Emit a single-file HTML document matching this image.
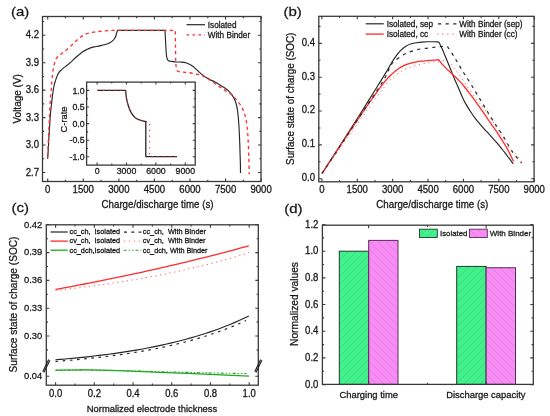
<!DOCTYPE html>
<html><head><meta charset="utf-8"><title>Figure</title>
<style>
html,body{margin:0;padding:0;background:#fff;}
body{width:550px;height:416px;overflow:hidden;}
svg{display:block;}
svg text{font-family:"Liberation Sans", Arial, sans-serif;fill:#161616;stroke:#1c1c1c;stroke-width:0.28px;}
</style></head><body>
<svg width="550" height="416" viewBox="0 0 550 416">
<rect width="550" height="416" fill="#fff"/>
<text font-size="14" text-anchor="start" transform="translate(10.9 15.9) scale(1.07 0.97)">(a)</text>
<rect x="42.5" y="16.5" width="218.5" height="165" fill="none" stroke="#3a3a3a" stroke-width="1.3"/>
<path d="M47.7,181.5v-3 M47.7,16.5v3 M83.27,181.5v-3 M83.27,16.5v3 M118.84,181.5v-3 M118.84,16.5v3 M154.41,181.5v-3 M154.41,16.5v3 M189.98,181.5v-3 M189.98,16.5v3 M225.55,181.5v-3 M225.55,16.5v3 M261.12,181.5v-3 M261.12,16.5v3 M65.48,181.5v-1.7 M65.48,16.5v1.7 M101.05,181.5v-1.7 M101.05,16.5v1.7 M136.62,181.5v-1.7 M136.62,16.5v1.7 M172.19,181.5v-1.7 M172.19,16.5v1.7 M207.76,181.5v-1.7 M207.76,16.5v1.7 M243.33,181.5v-1.7 M243.33,16.5v1.7 " stroke="#3a3a3a" stroke-width="1.1" fill="none"/>
<path d="M42.5,172.5h3 M261,172.5h-3 M42.5,145.05h3 M261,145.05h-3 M42.5,117.6h3 M261,117.6h-3 M42.5,90.15h3 M261,90.15h-3 M42.5,62.7h3 M261,62.7h-3 M42.5,35.25h3 M261,35.25h-3 M42.5,158.78h1.7 M261,158.78h-1.7 M42.5,131.33h1.7 M261,131.33h-1.7 M42.5,103.88h1.7 M261,103.88h-1.7 M42.5,76.43h1.7 M261,76.43h-1.7 M42.5,48.98h1.7 M261,48.98h-1.7 M42.5,21.53h1.7 M261,21.53h-1.7 " stroke="#3a3a3a" stroke-width="1.1" fill="none"/>
<text font-size="9.6" text-anchor="middle" transform="translate(47.7 192.6) scale(1 1.06)">0</text>
<text font-size="9.6" text-anchor="middle" transform="translate(83.27 192.6) scale(1 1.06)">1500</text>
<text font-size="9.6" text-anchor="middle" transform="translate(118.84 192.6) scale(1 1.06)">3000</text>
<text font-size="9.6" text-anchor="middle" transform="translate(154.41 192.6) scale(1 1.06)">4500</text>
<text font-size="9.6" text-anchor="middle" transform="translate(189.98 192.6) scale(1 1.06)">6000</text>
<text font-size="9.6" text-anchor="middle" transform="translate(225.55 192.6) scale(1 1.06)">7500</text>
<text font-size="9.6" text-anchor="middle" transform="translate(261.12 192.6) scale(1 1.06)">9000</text>
<text font-size="9.6" text-anchor="end" transform="translate(39.1 175.5) scale(1 1.06)">2.7</text>
<text font-size="9.6" text-anchor="end" transform="translate(39.1 148.05) scale(1 1.06)">3.0</text>
<text font-size="9.6" text-anchor="end" transform="translate(39.1 120.6) scale(1 1.06)">3.3</text>
<text font-size="9.6" text-anchor="end" transform="translate(39.1 93.15) scale(1 1.06)">3.6</text>
<text font-size="9.6" text-anchor="end" transform="translate(39.1 65.7) scale(1 1.06)">3.9</text>
<text font-size="9.6" text-anchor="end" transform="translate(39.1 38.25) scale(1 1.06)">4.2</text>
<text font-size="10" text-anchor="middle" transform="translate(20.8 98.8) rotate(-90)">Voltage (V)</text>
<text font-size="9.75" text-anchor="middle" transform="translate(157.5 208.4) scale(1 1.07)">Charge/discharge time (s)</text>
<path d="M47.7,158.8 C47.83,156.5 48.23,149.63 48.5,145 C48.77,140.37 49.03,135.43 49.3,131 C49.57,126.57 49.85,121.9 50.1,118.4 C50.35,114.9 50.55,112.52 50.8,110 C51.05,107.48 51.35,105.47 51.6,103.3 C51.85,101.13 52.05,99.03 52.3,97 C52.55,94.97 52.82,92.93 53.1,91.1 C53.38,89.27 53.68,87.52 54,86 C54.32,84.48 54.62,83.28 55,82 C55.38,80.72 55.88,79.48 56.3,78.3 C56.72,77.12 57.05,75.9 57.5,74.9 C57.95,73.9 58.43,73.07 59,72.3 C59.57,71.53 60.07,71.08 60.9,70.3 C61.73,69.52 62.97,68.43 64,67.6 C65.03,66.77 66.13,66.07 67.1,65.3 C68.07,64.53 68.93,63.75 69.8,63 C70.67,62.25 71.27,61.75 72.3,60.8 C73.33,59.85 74.8,58.37 76,57.3 C77.2,56.23 78.33,55.35 79.5,54.4 C80.67,53.45 81.8,52.4 83,51.6 C84.2,50.8 85.45,50.22 86.7,49.6 C87.95,48.98 89.28,48.35 90.5,47.9 C91.72,47.45 92.75,47.2 94,46.9 C95.25,46.6 96.83,46.32 98,46.1 C99.17,45.88 99.92,45.82 101,45.6 C102.08,45.38 103.42,45.1 104.5,44.8 C105.58,44.5 106.5,44.23 107.5,43.8 C108.5,43.37 109.57,42.78 110.5,42.2 C111.43,41.62 112.42,40.92 113.1,40.3 C113.78,39.68 114.18,39.13 114.6,38.5 C115.02,37.87 115.3,37.25 115.6,36.5 C115.9,35.75 116.18,34.73 116.4,34 C116.62,33.27 116.72,32.7 116.9,32.1 C117.08,31.5 117.4,30.68 117.5,30.4 L165,30.4 L165,30.4 C165.1,32.33 165.4,38.27 165.6,42 C165.8,45.73 165.97,50.1 166.2,52.8 C166.43,55.5 166.7,56.95 167,58.2 C167.3,59.45 167.58,59.82 168,60.3 C168.42,60.78 168.83,60.92 169.5,61.1 C170.17,61.28 170.92,61.25 172,61.4 C173.08,61.55 174.37,61.88 176,62 C177.63,62.12 180.05,61.93 181.8,62.1 C183.55,62.27 185.05,62.55 186.5,63 C187.95,63.45 189.33,64.17 190.5,64.8 C191.67,65.43 192.58,66.07 193.5,66.8 C194.42,67.53 195.12,68.37 196,69.2 C196.88,70.03 197.9,70.98 198.8,71.8 C199.7,72.62 200.53,73.38 201.4,74.1 C202.27,74.82 203.08,75.47 204,76.1 C204.92,76.73 205.82,77.27 206.9,77.9 C207.98,78.53 209.23,79.27 210.5,79.9 C211.77,80.53 212.92,80.85 214.5,81.7 C216.08,82.55 218.37,84.02 220,85 C221.63,85.98 222.97,86.7 224.3,87.6 C225.63,88.5 226.83,89.3 228,90.4 C229.17,91.5 230.38,93.02 231.3,94.2 C232.22,95.38 232.85,96.37 233.5,97.5 C234.15,98.63 234.68,99.67 235.2,101 C235.72,102.33 236.2,103.83 236.6,105.5 C237,107.17 237.3,108.83 237.6,111 C237.9,113.17 238.17,115.83 238.4,118.5 C238.63,121.17 238.83,124.25 239,127 C239.17,129.75 239.27,132 239.4,135 C239.53,138 239.68,141.67 239.8,145 C239.92,148.33 240,151.83 240.1,155 C240.2,158.17 240.33,161 240.4,164 C240.47,167 240.48,171.5 240.5,173" fill="none" stroke="#262626" stroke-width="1.15" stroke-linejoin="round"/>
<path d="M47.7,156 C47.82,153.33 48.18,144.83 48.4,140 C48.62,135.17 48.8,131.1 49,127 C49.2,122.9 49.38,119.87 49.6,115.4 C49.82,110.93 50.05,104.08 50.3,100.2 C50.55,96.32 50.88,94.63 51.1,92.1 C51.32,89.57 51.43,87.35 51.6,85 C51.77,82.65 51.83,80.58 52.1,78 C52.37,75.42 52.75,72.13 53.2,69.5 C53.65,66.87 54.28,64.03 54.8,62.2 C55.32,60.37 55.73,59.52 56.3,58.5 C56.87,57.48 57.42,56.85 58.2,56.1 C58.98,55.35 59.97,54.77 61,54 C62.03,53.23 62.93,52.65 64.4,51.5 C65.87,50.35 68.05,48.68 69.8,47.1 C71.55,45.52 73.13,43.63 74.9,42 C76.67,40.37 78.52,38.65 80.4,37.3 C82.28,35.95 84.2,34.72 86.2,33.9 C88.2,33.08 90.35,32.8 92.4,32.4 C94.45,32 96.57,31.75 98.5,31.5 C100.43,31.25 102.08,31.07 104,30.9 C105.92,30.73 108.33,30.58 110,30.5 C111.67,30.42 113.33,30.42 114,30.4 L175.3,30.4 L175.3,30.4 C175.33,32.83 175.43,40.07 175.5,45 C175.57,49.93 175.58,56.25 175.7,60 C175.82,63.75 175.92,65.7 176.2,67.5 C176.48,69.3 176.83,70.08 177.4,70.8 C177.97,71.52 178.58,71.57 179.6,71.8 C180.62,72.03 182.22,72.08 183.5,72.2 C184.78,72.32 186.05,72.37 187.3,72.5 C188.55,72.63 189.73,72.78 191,73 C192.27,73.22 193.7,73.55 194.9,73.8 C196.1,74.05 197.12,74.23 198.2,74.5 C199.28,74.77 200.4,75.05 201.4,75.4 C202.4,75.75 203.28,76.15 204.2,76.6 C205.12,77.05 205.82,77.43 206.9,78.1 C207.98,78.77 209.43,79.75 210.7,80.6 C211.97,81.45 213.12,82.23 214.5,83.2 C215.88,84.17 217.75,85.53 219,86.4 C220.25,87.27 220.83,87.63 222,88.4 C223.17,89.17 224.45,90 226,91 C227.55,92 229.72,93.13 231.3,94.4 C232.88,95.67 234.1,97 235.5,98.6 C236.9,100.2 238.53,102.33 239.7,104 C240.87,105.67 241.7,106.98 242.5,108.6 C243.3,110.22 243.92,111.97 244.5,113.7 C245.08,115.43 245.6,117 246,119 C246.4,121 246.63,123.53 246.9,125.7 C247.17,127.87 247.4,129.6 247.6,132 C247.8,134.4 247.9,135.95 248.1,140.1 C248.3,144.25 248.62,151.22 248.8,156.9 C248.98,162.58 249.13,171.32 249.2,174.2" fill="none" stroke="#ff2a2a" stroke-width="1.3" stroke-dasharray="3.3 3.2" stroke-linejoin="round"/>
<path d="M186.5,24.7H205" fill="none" stroke="#262626" stroke-width="1.2" stroke-linejoin="round"/>
<path d="M186.5,34.9H205" fill="none" stroke="#ff2a2a" stroke-width="1.3" stroke-dasharray="2.6 3.4" stroke-linejoin="round"/>
<text font-size="8.2" text-anchor="start" transform="translate(207.8 27.6)">Isolated</text>
<text font-size="8.2" text-anchor="start" transform="translate(207.8 37.8)">With Binder</text>
<rect x="86.6" y="82.1" width="108.6" height="83.0" fill="#fff" stroke="none"/>
<rect x="86.6" y="82.1" width="108.6" height="83" fill="none" stroke="#3a3a3a" stroke-width="1.3"/>
<path d="M97.1,165.1v-2.5 M97.1,82.1v2.5 M126.5,165.1v-2.5 M126.5,82.1v2.5 M155.9,165.1v-2.5 M155.9,82.1v2.5 M185.3,165.1v-2.5 M185.3,82.1v2.5 M111.8,165.1v-1.5 M111.8,82.1v1.5 M141.2,165.1v-1.5 M141.2,82.1v1.5 M170.6,165.1v-1.5 M170.6,82.1v1.5 " stroke="#3a3a3a" stroke-width="1.1" fill="none"/>
<path d="M86.6,156.8h2.5 M195.2,156.8h-2.5 M86.6,140.2h2.5 M195.2,140.2h-2.5 M86.6,123.6h2.5 M195.2,123.6h-2.5 M86.6,107h2.5 M195.2,107h-2.5 M86.6,90.4h2.5 M195.2,90.4h-2.5 M86.6,148.5h1.5 M195.2,148.5h-1.5 M86.6,131.9h1.5 M195.2,131.9h-1.5 M86.6,115.3h1.5 M195.2,115.3h-1.5 M86.6,98.7h1.5 M195.2,98.7h-1.5 " stroke="#3a3a3a" stroke-width="1.1" fill="none"/>
<text font-size="8.8" text-anchor="middle" transform="translate(97.1 174) scale(1 1.08)">0</text>
<text font-size="8.8" text-anchor="middle" transform="translate(126.5 174) scale(1 1.08)">3000</text>
<text font-size="8.8" text-anchor="middle" transform="translate(155.9 174) scale(1 1.08)">6000</text>
<text font-size="8.8" text-anchor="middle" transform="translate(185.3 174) scale(1 1.08)">9000</text>
<text font-size="8.8" text-anchor="end" transform="translate(84.6 159.9) scale(1 1.08)">-1.0</text>
<text font-size="8.8" text-anchor="end" transform="translate(84.6 143.3) scale(1 1.08)">-0.5</text>
<text font-size="8.8" text-anchor="end" transform="translate(84.6 126.7) scale(1 1.08)">0.0</text>
<text font-size="8.8" text-anchor="end" transform="translate(84.6 110.1) scale(1 1.08)">0.5</text>
<text font-size="8.8" text-anchor="end" transform="translate(84.6 93.5) scale(1 1.08)">1.0</text>
<text font-size="9.4" text-anchor="middle" transform="translate(66.5 119.5) rotate(-90)">C-rate</text>
<path d="M97.1,90.4 L125.6,90.4 L125.6,90.4 C125.67,91.1 125.78,92.93 126,94.6 C126.22,96.27 126.48,98.47 126.9,100.4 C127.32,102.33 127.77,104.12 128.5,106.2 C129.23,108.28 130.18,110.98 131.3,112.9 C132.42,114.82 133.75,116.48 135.2,117.7 C136.65,118.92 138.27,119.57 140,120.2 C141.73,120.83 144.67,121.28 145.6,121.5 L145.8,121.6 L145.8,156.6 L177,156.6" fill="none" stroke="#262626" stroke-width="1.3" stroke-linejoin="round"/>
<path d="M97.1,90.4 L125.6,90.4 L125.6,90.4 C125.67,91.1 125.78,92.93 126,94.6 C126.22,96.27 126.48,98.47 126.9,100.4 C127.32,102.33 127.77,104.12 128.5,106.2 C129.23,108.28 130.18,110.98 131.3,112.9 C132.42,114.82 133.75,116.48 135.2,117.7 C136.65,118.92 138.27,119.57 140,120.2 C141.73,120.83 144,121.23 145.6,121.5 C147.2,121.77 148.93,121.75 149.6,121.8 L149.6,121.8 L149.6,156.6 L177,156.6" fill="none" stroke="#ff2a2a" stroke-width="1.1" stroke-dasharray="1.2 4.6" stroke-linejoin="round"/>
<text font-size="14" text-anchor="start" transform="translate(283.5 16.3) scale(1.07 0.97)">(b)</text>
<rect x="318.8" y="16.3" width="215.3" height="165.5" fill="none" stroke="#3a3a3a" stroke-width="1.3"/>
<path d="M321.9,181.8v-3 M321.9,16.3v3 M357.28,181.8v-3 M357.28,16.3v3 M392.67,181.8v-3 M392.67,16.3v3 M428.05,181.8v-3 M428.05,16.3v3 M463.44,181.8v-3 M463.44,16.3v3 M498.82,181.8v-3 M498.82,16.3v3 M534.21,181.8v-3 M534.21,16.3v3 M339.59,181.8v-1.7 M339.59,16.3v1.7 M374.98,181.8v-1.7 M374.98,16.3v1.7 M410.36,181.8v-1.7 M410.36,16.3v1.7 M445.75,181.8v-1.7 M445.75,16.3v1.7 M481.13,181.8v-1.7 M481.13,16.3v1.7 M516.52,181.8v-1.7 M516.52,16.3v1.7 " stroke="#3a3a3a" stroke-width="1.1" fill="none"/>
<path d="M318.8,178.7h3 M534.1,178.7h-3 M318.8,144.86h3 M534.1,144.86h-3 M318.8,111.02h3 M534.1,111.02h-3 M318.8,77.18h3 M534.1,77.18h-3 M318.8,43.34h3 M534.1,43.34h-3 M318.8,161.78h1.7 M534.1,161.78h-1.7 M318.8,127.94h1.7 M534.1,127.94h-1.7 M318.8,94.1h1.7 M534.1,94.1h-1.7 M318.8,60.26h1.7 M534.1,60.26h-1.7 M318.8,26.42h1.7 M534.1,26.42h-1.7 " stroke="#3a3a3a" stroke-width="1.1" fill="none"/>
<text font-size="9.6" text-anchor="middle" transform="translate(321.9 192.6) scale(1 1.06)">0</text>
<text font-size="9.6" text-anchor="middle" transform="translate(357.28 192.6) scale(1 1.06)">1500</text>
<text font-size="9.6" text-anchor="middle" transform="translate(392.67 192.6) scale(1 1.06)">3000</text>
<text font-size="9.6" text-anchor="middle" transform="translate(428.05 192.6) scale(1 1.06)">4500</text>
<text font-size="9.6" text-anchor="middle" transform="translate(463.44 192.6) scale(1 1.06)">6000</text>
<text font-size="9.6" text-anchor="middle" transform="translate(498.82 192.6) scale(1 1.06)">7500</text>
<text font-size="9.6" text-anchor="middle" transform="translate(534.21 192.6) scale(1 1.06)">9000</text>
<text font-size="9.6" text-anchor="end" transform="translate(315 181.1) scale(1 1.06)">0.0</text>
<text font-size="9.6" text-anchor="end" transform="translate(315 147.26) scale(1 1.06)">0.1</text>
<text font-size="9.6" text-anchor="end" transform="translate(315 113.42) scale(1 1.06)">0.2</text>
<text font-size="9.6" text-anchor="end" transform="translate(315 79.58) scale(1 1.06)">0.3</text>
<text font-size="9.6" text-anchor="end" transform="translate(315 45.74) scale(1 1.06)">0.4</text>
<text font-size="9.85" text-anchor="middle" transform="translate(294.2 98.8) rotate(-90) scale(1 1.04)">Surface state of charge (SOC)</text>
<text font-size="9.75" text-anchor="middle" transform="translate(432.3 208.2) scale(1 1.07)">Charge/discharge time (s)</text>
<path d="M322,173.5 L341,144 L360,114.2 L360,114.2 C362.4,110.37 370.08,98.13 374.4,91.2 C378.72,84.27 383.13,77.17 385.9,72.6 C388.67,68.03 389.32,66.53 391,63.8 C392.68,61.07 394.42,58.4 396,56.2 C397.58,54 398.85,52.27 400.5,50.6 C402.15,48.93 404.08,47.33 405.9,46.2 C407.72,45.07 409.58,44.38 411.4,43.8 C413.22,43.22 414.98,42.98 416.8,42.7 C418.62,42.42 420.48,42.25 422.3,42.1 C424.12,41.95 425.88,41.85 427.7,41.8 C429.52,41.75 431.35,41.77 433.2,41.8 C435.05,41.83 437.87,41.97 438.8,42 L438.8,42 C439.28,42.95 440.42,44.83 441.7,47.7 C442.98,50.57 445.05,55.68 446.5,59.2 C447.95,62.72 449.12,65.63 450.4,68.8 C451.68,71.97 452.9,75.12 454.2,78.2 C455.5,81.28 456.82,84.1 458.2,87.3 C459.58,90.5 461.17,94.52 462.5,97.4 C463.83,100.28 464.68,101.97 466.2,104.6 C467.72,107.23 469.97,110.73 471.6,113.2 C473.23,115.67 474.53,117.5 476,119.4 C477.47,121.3 478.9,122.87 480.4,124.6 C481.9,126.33 483.45,128.1 485,129.8 C486.55,131.5 487.63,132.53 489.7,134.8 C491.77,137.07 495.48,141.17 497.4,143.4 C499.32,145.63 499.9,146.57 501.2,148.2 C502.5,149.83 503.9,151.53 505.2,153.2 C506.5,154.87 507.65,156.43 509,158.2 C510.35,159.97 512.58,162.87 513.3,163.8" fill="none" stroke="#262626" stroke-width="1.15" stroke-linejoin="round"/>
<path d="M322,173.5 L342,143 L358,119.2 L358,119.2 C359.17,117.48 362.83,112.03 365,108.9 C367.17,105.77 369.17,102.98 371,100.4 C372.83,97.82 374.23,95.87 376,93.4 C377.77,90.93 379.47,88.33 381.6,85.6 C383.73,82.87 386.4,79.53 388.8,77 C391.2,74.47 393.6,72.27 396,70.4 C398.4,68.53 400.87,66.98 403.2,65.8 C405.53,64.62 407.73,63.97 410,63.3 C412.27,62.63 414.75,62.17 416.8,61.8 C418.85,61.43 420.48,61.3 422.3,61.1 C424.12,60.9 425.92,60.77 427.7,60.6 C429.48,60.43 431.18,60.25 433,60.1 C434.82,59.95 437.67,59.77 438.6,59.7 L438.6,59.7 C438.97,60.17 439.63,61.13 440.8,62.5 C441.97,63.87 444,66.25 445.6,67.9 C447.2,69.55 448.32,70.45 450.4,72.4 C452.48,74.35 455.72,77.17 458.1,79.6 C460.48,82.03 462.52,84.33 464.7,87 C466.88,89.67 469.05,92.72 471.2,95.6 C473.35,98.48 475.27,101.05 477.6,104.3 C479.93,107.55 483.4,112.48 485.2,115.1 C487,117.72 486.37,117.05 488.4,120 C490.43,122.95 494.4,128.25 497.4,132.8 C500.4,137.35 503.7,142.53 506.4,147.3 C509.1,152.07 512.4,159.05 513.6,161.4" fill="none" stroke="#ff2a2a" stroke-width="1.3" stroke-linejoin="round"/>
<path d="M322,173.5 L345,138.8 L360,116.2 L360,116.2 C361.43,114.03 366.1,106.98 368.6,103.2 C371.1,99.42 372.82,96.83 375,93.5 C377.18,90.17 379.9,86.08 381.7,83.2 C383.5,80.32 384.67,78.37 385.8,76.2 C386.93,74.03 387.6,72.1 388.5,70.2 C389.4,68.3 390.28,66.27 391.2,64.8 C392.12,63.33 392.72,62.57 394,61.4 C395.28,60.23 396.92,59.12 398.9,57.8 C400.88,56.48 402.92,54.85 405.9,53.5 C408.88,52.15 413.17,50.6 416.8,49.7 C420.43,48.8 424.43,48.55 427.7,48.1 C430.97,47.65 434.07,47.27 436.4,47 C438.73,46.73 439.85,46.57 441.7,46.5 C443.55,46.43 446.53,46.58 447.5,46.6 L447.5,46.6 C448.3,47.82 450.85,51.63 452.3,53.9 C453.75,56.17 454.92,58.08 456.2,60.2 C457.48,62.32 458.73,64.47 460,66.6 C461.27,68.73 462.67,71.17 463.8,73 C464.93,74.83 465.22,75.08 466.8,77.6 C468.38,80.12 471.13,84.55 473.3,88.1 C475.47,91.65 477.63,95.3 479.8,98.9 C481.97,102.5 483.97,105.85 486.3,109.7 C488.63,113.55 491.05,117.7 493.8,122 C496.55,126.3 499.8,130.68 502.8,135.5 C505.8,140.32 508.67,146.3 511.8,150.9 C514.93,155.5 519.97,161.07 521.6,163.1" fill="none" stroke="#262626" stroke-width="1.2" stroke-dasharray="3.2 4.4" stroke-linejoin="round"/>
<path d="M322,173.5 L336,154 L345,141.2 L345,141.2 C345.92,139.88 348.58,135.97 350.5,133.3 C352.42,130.63 354.55,127.92 356.5,125.2 C358.45,122.48 360.25,119.73 362.2,117 C364.15,114.27 365.82,112.07 368.2,108.8 C370.58,105.53 374.1,100.65 376.5,97.4 C378.9,94.15 381.05,91.37 382.6,89.3 C384.15,87.23 384.78,86.28 385.8,85 C386.82,83.72 387.55,82.8 388.7,81.6 C389.85,80.4 391.4,78.97 392.7,77.8 C394,76.63 395.28,75.53 396.5,74.6 C397.72,73.67 398.88,72.92 400,72.2 C401.12,71.48 401.7,71.05 403.2,70.3 C404.7,69.55 406.73,68.57 409,67.7 C411.27,66.83 413.68,65.92 416.8,65.1 C419.92,64.28 424.07,63.47 427.7,62.8 C431.33,62.13 435.38,61.52 438.6,61.1 C441.82,60.68 445.6,60.43 447,60.3 L447,60.3 C447.72,61 450.1,63.12 451.3,64.5 C452.5,65.88 453.15,67.23 454.2,68.6 C455.25,69.97 456.55,71.38 457.6,72.7 C458.65,74.02 458.6,73.78 460.5,76.5 C462.4,79.22 466.15,85 469,89 C471.85,93 475.27,97.42 477.6,100.5 C479.93,103.58 480.6,104.22 483,107.5 C485.4,110.78 489,115.72 492,120.2 C495,124.68 498,129.58 501,134.4 C504,139.22 507.58,145.95 510,149.1 C512.42,152.25 513.57,151.07 515.5,153.3 C517.43,155.53 520.58,160.97 521.6,162.5" fill="none" stroke="#ff2a2a" stroke-width="1.0" stroke-dasharray="1.2 3.6" stroke-linejoin="round" opacity="0.75"/>
<path d="M365.7,23.8H383.7" fill="none" stroke="#262626" stroke-width="1.2" stroke-linejoin="round"/>
<path d="M365.7,34.1H383.7" fill="none" stroke="#ff2a2a" stroke-width="1.3" stroke-linejoin="round"/>
<path d="M438,23.8H456.4" fill="none" stroke="#262626" stroke-width="1.2" stroke-dasharray="3.2 4.4" stroke-linejoin="round"/>
<path d="M437,34.1H454" fill="none" stroke="#ff2a2a" stroke-width="1.0" stroke-dasharray="1.6 3.4" stroke-linejoin="round" opacity="0.6"/>
<text font-size="8.2" text-anchor="start" transform="translate(386.7 26.7)">Isolated, sep</text>
<text font-size="8.2" text-anchor="start" transform="translate(386.7 37)">Isolated, cc</text>
<text font-size="8.2" text-anchor="start" transform="translate(459.3 26.7)">With Binder (sep)</text>
<text font-size="8.2" text-anchor="start" transform="translate(459.3 37)">With Binder (cc)</text>
<text font-size="14" text-anchor="start" transform="translate(11.6 212.4) scale(1.07 0.97)">(c)</text>
<rect x="46.3" y="224.8" width="212" height="160.4" fill="none" stroke="#3a3a3a" stroke-width="1.3"/>
<path d="M55.6,385.2v-3 M55.6,224.8v3 M94.32,385.2v-3 M94.32,224.8v3 M133.04,385.2v-3 M133.04,224.8v3 M171.76,385.2v-3 M171.76,224.8v3 M210.48,385.2v-3 M210.48,224.8v3 M249.2,385.2v-3 M249.2,224.8v3 M74.96,385.2v-1.7 M74.96,224.8v1.7 M113.68,385.2v-1.7 M113.68,224.8v1.7 M152.4,385.2v-1.7 M152.4,224.8v1.7 M191.12,385.2v-1.7 M191.12,224.8v1.7 M229.84,385.2v-1.7 M229.84,224.8v1.7 " stroke="#3a3a3a" stroke-width="1.1" fill="none"/>
<path d="M46.3,336h3 M258.3,336h-3 M46.3,308.2h3 M258.3,308.2h-3 M46.3,280.4h3 M258.3,280.4h-3 M46.3,252.6h3 M258.3,252.6h-3 M46.3,224.8h3 M258.3,224.8h-3 M46.3,376.2h3 M258.3,376.2h-3 M46.3,349.9h1.7 M258.3,349.9h-1.7 M46.3,322.1h1.7 M258.3,322.1h-1.7 M46.3,294.3h1.7 M258.3,294.3h-1.7 M46.3,266.5h1.7 M258.3,266.5h-1.7 M46.3,238.7h1.7 M258.3,238.7h-1.7 " stroke="#3a3a3a" stroke-width="1.1" fill="none"/>
<text font-size="9.5" text-anchor="middle" transform="translate(55.6 396.8) scale(1 1.06)">0.0</text>
<text font-size="9.5" text-anchor="middle" transform="translate(94.32 396.8) scale(1 1.06)">0.2</text>
<text font-size="9.5" text-anchor="middle" transform="translate(133.04 396.8) scale(1 1.06)">0.4</text>
<text font-size="9.5" text-anchor="middle" transform="translate(171.76 396.8) scale(1 1.06)">0.6</text>
<text font-size="9.5" text-anchor="middle" transform="translate(210.48 396.8) scale(1 1.06)">0.8</text>
<text font-size="9.5" text-anchor="middle" transform="translate(249.2 396.8) scale(1 1.06)">1.0</text>
<text font-size="9.4" text-anchor="end" transform="translate(42.3 338.7) scale(1 1.06)">0.30</text>
<text font-size="9.4" text-anchor="end" transform="translate(42.3 310.9) scale(1 1.06)">0.33</text>
<text font-size="9.4" text-anchor="end" transform="translate(42.3 283.1) scale(1 1.06)">0.36</text>
<text font-size="9.4" text-anchor="end" transform="translate(42.3 255.3) scale(1 1.06)">0.39</text>
<text font-size="9.4" text-anchor="end" transform="translate(42.3 227.5) scale(1 1.06)">0.42</text>
<text font-size="9.4" text-anchor="end" transform="translate(42.3 379.4) scale(1 1.06)">0.04</text>
<path d="M42.7,371.8 L48.7,359.6 M43.9,372.4 L49.9,360.2" stroke="#222" stroke-width="1.1"/>
<path d="M254.7,371.8 L260.7,359.6 M255.9,372.4 L261.9,360.2" stroke="#222" stroke-width="1.1"/>
<text font-size="10.1" text-anchor="middle" transform="translate(16.9 304.5) rotate(-90) scale(1 1.03)">Surface state of charge (SOC)</text>
<text font-size="9.4" text-anchor="middle" transform="translate(152 411.5) scale(1 1.05)">Normalized electrode thickness</text>
<path d="M55.5,289.45 L60.33,288.57 L65.17,287.67 L70,286.77 L74.83,285.86 L79.66,284.94 L84.5,284.01 L89.33,283.07 L94.16,282.12 L98.99,281.16 L103.83,280.19 L108.66,279.2 L113.49,278.21 L118.32,277.21 L123.16,276.2 L127.99,275.18 L132.82,274.14 L137.65,273.1 L142.49,272.05 L147.32,270.98 L152.15,269.9 L156.98,268.82 L161.81,267.72 L166.65,266.6 L171.48,265.48 L176.31,264.35 L181.15,263.2 L185.98,262.04 L190.81,260.87 L195.64,259.69 L200.47,258.49 L205.31,257.29 L210.14,256.07 L214.97,254.83 L219.81,253.59 L224.64,252.33 L229.47,251.06 L234.3,249.77 L239.14,248.47 L243.97,247.16 L248.8,245.83" fill="none" stroke="#ff2a2a" stroke-width="1.3" stroke-linejoin="round"/>
<path d="M55.5,290.47 L60.34,289.94 L65.19,289.38 L70.03,288.82 L74.87,288.24 L79.71,287.64 L84.55,287.02 L89.4,286.39 L94.24,285.75 L99.08,285.08 L103.92,284.4 L108.77,283.69 L113.61,282.97 L118.45,282.23 L123.29,281.47 L128.14,280.69 L132.98,279.89 L137.82,279.07 L142.66,278.22 L147.51,277.35 L152.35,276.46 L157.19,275.54 L162.03,274.6 L166.88,273.64 L171.72,272.64 L176.56,271.63 L181.41,270.58 L186.25,269.5 L191.09,268.4 L195.93,267.26 L200.78,266.1 L205.62,264.9 L210.46,263.68 L215.3,262.41 L220.14,261.12 L224.99,259.79 L229.83,258.42 L234.67,257.02 L239.51,255.57 L244.36,254.09 L249.2,252.57" fill="none" stroke="#ff2a2a" stroke-width="1.0" stroke-dasharray="1.2 3.6" stroke-linejoin="round" opacity="0.8"/>
<path d="M55.5,359.78 L60.33,359.38 L65.17,358.96 L70,358.52 L74.83,358.07 L79.66,357.59 L84.5,357.09 L89.33,356.56 L94.16,356.02 L98.99,355.44 L103.83,354.84 L108.66,354.22 L113.49,353.56 L118.32,352.88 L123.16,352.16 L127.99,351.41 L132.82,350.63 L137.65,349.81 L142.49,348.95 L147.32,348.05 L152.15,347.12 L156.98,346.14 L161.81,345.11 L166.65,344.04 L171.48,342.91 L176.31,341.74 L181.15,340.51 L185.98,339.23 L190.81,337.88 L195.64,336.48 L200.47,335.01 L205.31,333.47 L210.14,331.86 L214.97,330.18 L219.81,328.42 L224.64,326.58 L229.47,324.66 L234.3,322.65 L239.14,320.54 L243.97,318.34 L248.8,316.04" fill="none" stroke="#262626" stroke-width="1.15" stroke-linejoin="round"/>
<path d="M55.5,361.43 L60.26,361.06 L65.03,360.67 L69.79,360.27 L74.55,359.84 L79.31,359.4 L84.08,358.93 L88.84,358.45 L93.6,357.94 L98.36,357.41 L103.12,356.85 L107.89,356.26 L112.65,355.65 L117.41,355.02 L122.17,354.35 L126.94,353.65 L131.7,352.92 L136.46,352.15 L141.22,351.35 L145.99,350.52 L150.75,349.64 L155.51,348.73 L160.28,347.77 L165.04,346.77 L169.8,345.72 L174.56,344.62 L179.32,343.47 L184.09,342.27 L188.85,341.01 L193.61,339.7 L198.38,338.32 L203.14,336.88 L207.9,335.38 L212.66,333.8 L217.43,332.15 L222.19,330.43 L226.95,328.63 L231.71,326.74 L236.47,324.76 L241.24,322.7 L246,320.54" fill="none" stroke="#262626" stroke-width="1.2" stroke-dasharray="2.6 4.6" stroke-linejoin="round"/>
<path d="M55.5,370.3 C60.42,370.22 74.25,369.73 85,369.8 C95.75,369.87 107.5,370.28 120,370.7 C132.5,371.12 145.83,371.72 160,372.3 C174.17,372.88 190.17,373.55 205,374.2 C219.83,374.85 241.67,375.87 249,376.2" fill="none" stroke="#1ea81e" stroke-width="1.3" stroke-linejoin="round"/>
<path d="M55.5,370.2 C60.42,370.15 74.25,369.83 85,369.9 C95.75,369.97 107.5,370.3 120,370.6 C132.5,370.9 145.83,371.33 160,371.7 C174.17,372.07 190.6,372.48 205,372.8 C219.4,373.12 239.5,373.47 246.4,373.6" fill="none" stroke="#1ea81e" stroke-width="1.1" stroke-dasharray="3 2 1.4 2 1.4 2" stroke-linejoin="round"/>
<path d="M50.5,232H67.7" fill="none" stroke="#262626" stroke-width="1.2" stroke-linejoin="round"/>
<path d="M50.5,241.1H67.7" fill="none" stroke="#ff2a2a" stroke-width="1.3" stroke-linejoin="round"/>
<path d="M50.5,250.2H67.7" fill="none" stroke="#1ea81e" stroke-width="1.3" stroke-linejoin="round"/>
<path d="M124,232.1H141.4" fill="none" stroke="#262626" stroke-width="1.2" stroke-dasharray="3 4.3" stroke-linejoin="round"/>
<path d="M123.7,241.1H141.4" fill="none" stroke="#ff2a2a" stroke-width="1.0" stroke-dasharray="1.4 3.6" stroke-linejoin="round" opacity="0.6"/>
<path d="M123.7,250.2H141.4" fill="none" stroke="#1ea81e" stroke-width="1.1" stroke-dasharray="3 2 1.4 2 1.4 2" stroke-linejoin="round"/>
<text font-size="7.3" text-anchor="start" transform="translate(69.5 234.3) scale(1 1.08)">cc_ch,&#160; Isolated</text>
<text font-size="7.3" text-anchor="start" transform="translate(69.5 243.4) scale(1 1.08)">cv_ch,&#160; Isolated</text>
<text font-size="7.3" text-anchor="start" transform="translate(69.5 252.8) scale(1 1.08)">cc_dch,Isolated</text>
<text font-size="7.3" text-anchor="start" transform="translate(142.8 234.3) scale(1 1.08)">cc_ch,&#160; With BInder</text>
<text font-size="7.3" text-anchor="start" transform="translate(142.8 243.4) scale(1 1.08)">cv_ch,&#160; With Binder</text>
<text font-size="7.3" text-anchor="start" transform="translate(142.8 252.8) scale(1 1.08)">cc_dch, With Binder</text>
<text font-size="14" text-anchor="start" transform="translate(284.2 212.7) scale(1.07 0.97)">(d)</text>
<defs>
<pattern id="hg" patternUnits="userSpaceOnUse" width="8" height="8"><rect width="8" height="8" fill="#42f08c"/><path d="M-2,2 L2,-2 M0,8 L8,0 M6,10 L10,6" stroke="#36d87e" stroke-width="0.75"/></pattern>
<pattern id="hp" patternUnits="userSpaceOnUse" width="8" height="8"><rect width="8" height="8" fill="#f78cf5"/><path d="M-2,6 L2,10 M0,0 L8,8 M6,-2 L10,2" stroke="#e579e3" stroke-width="0.75"/></pattern>
</defs>
<rect x="339.3" y="251.2" width="29.4" height="133.2" fill="url(#hg)" stroke="#1f3a2a" stroke-width="1"/>
<rect x="368.7" y="240.39" width="29.3" height="144.01" fill="url(#hp)" stroke="#5a2a5a" stroke-width="1"/>
<rect x="456.7" y="266.41" width="29.4" height="117.99" fill="url(#hg)" stroke="#1f3a2a" stroke-width="1"/>
<rect x="486.1" y="267.74" width="29.4" height="116.66" fill="url(#hp)" stroke="#5a2a5a" stroke-width="1"/>
<rect x="322.4" y="225.2" width="210.9" height="159.2" fill="none" stroke="#3a3a3a" stroke-width="1.3"/>
<path d="M368.6,384.4v-3 M368.6,225.2v3 M486.1,384.4v-3 M486.1,225.2v3 M427.5,384.4v-1.7 M427.5,225.2v1.7 " stroke="#3a3a3a" stroke-width="1.1" fill="none"/>
<path d="M322.4,384.6h3 M533.3,384.6h-3 M322.4,357.92h3 M533.3,357.92h-3 M322.4,331.24h3 M533.3,331.24h-3 M322.4,304.56h3 M533.3,304.56h-3 M322.4,277.88h3 M533.3,277.88h-3 M322.4,251.2h3 M533.3,251.2h-3 M322.4,224.52h3 M533.3,224.52h-3 M322.4,371.26h1.7 M533.3,371.26h-1.7 M322.4,344.58h1.7 M533.3,344.58h-1.7 M322.4,317.9h1.7 M533.3,317.9h-1.7 M322.4,291.22h1.7 M533.3,291.22h-1.7 M322.4,264.54h1.7 M533.3,264.54h-1.7 M322.4,237.86h1.7 M533.3,237.86h-1.7 " stroke="#3a3a3a" stroke-width="1.1" fill="none"/>
<text font-size="9.6" text-anchor="end" transform="translate(318.4 387.8) scale(1 1.06)">0.0</text>
<text font-size="9.6" text-anchor="end" transform="translate(318.4 361.12) scale(1 1.06)">0.2</text>
<text font-size="9.6" text-anchor="end" transform="translate(318.4 334.44) scale(1 1.06)">0.4</text>
<text font-size="9.6" text-anchor="end" transform="translate(318.4 307.76) scale(1 1.06)">0.6</text>
<text font-size="9.6" text-anchor="end" transform="translate(318.4 281.08) scale(1 1.06)">0.8</text>
<text font-size="9.6" text-anchor="end" transform="translate(318.4 254.4) scale(1 1.06)">1.0</text>
<text font-size="9.6" text-anchor="end" transform="translate(318.4 227.72) scale(1 1.06)">1.2</text>
<text font-size="10.2" text-anchor="middle" transform="translate(298.2 304) rotate(-90) scale(1 1.03)">Normalized values</text>
<text font-size="9.4" text-anchor="middle" transform="translate(368.7 398) scale(1 1.05)">Charging time</text>
<text font-size="9.4" text-anchor="middle" transform="translate(485.9 398.3) scale(1 1.05)">Discharge capacity</text>
<rect x="419.5" y="229.2" width="17.8" height="8.3" fill="url(#hg)" stroke="#1f3a2a" stroke-width="0.9"/>
<rect x="469.5" y="229.2" width="17.8" height="8.3" fill="url(#hp)" stroke="#5a2a5a" stroke-width="0.9"/>
<text font-size="7.8" text-anchor="start" transform="translate(440 236)">Isolated</text>
<text font-size="8.0" text-anchor="start" transform="translate(489.8 236)">With Binder</text>
</svg>
</body></html>
